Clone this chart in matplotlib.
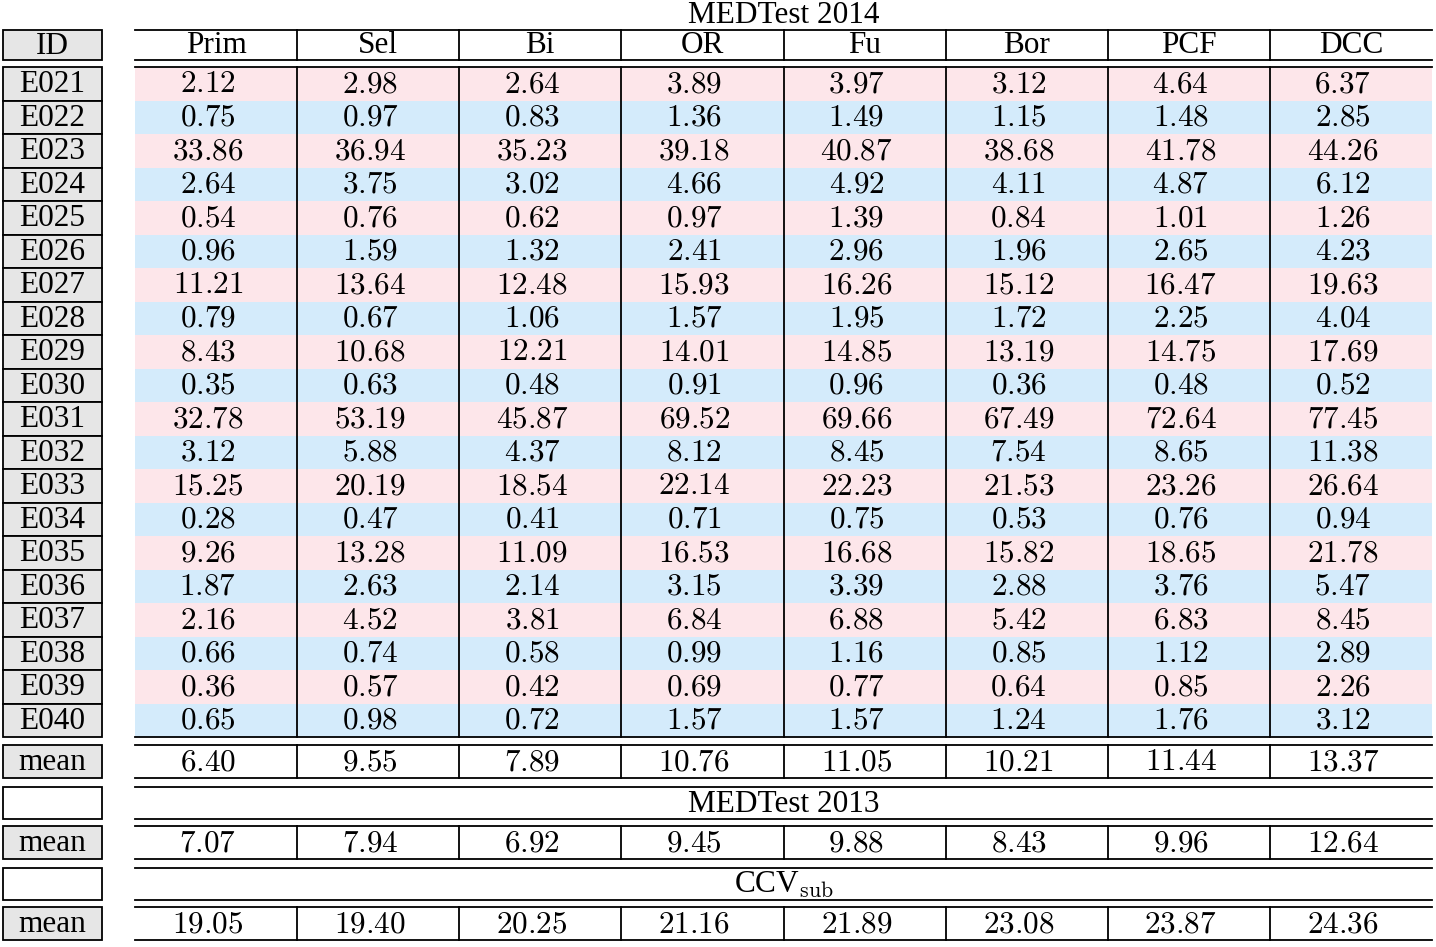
import matplotlib.pyplot as plt
from matplotlib.patches import Rectangle

methods = ["Prim", "Sel", "Bi", "OR", "Fu", "Bor", "PCF", "DCC"]
ids = ["E%03d" % i for i in range(21, 41)]
vals = [
    ["2.12", "2.98", "2.64", "3.89", "3.97", "3.12", "4.64", "6.37"],
    ["0.75", "0.97", "0.83", "1.36", "1.49", "1.15", "1.48", "2.85"],
    ["33.86", "36.94", "35.23", "39.18", "40.87", "38.68", "41.78", "44.26"],
    ["2.64", "3.75", "3.02", "4.66", "4.92", "4.11", "4.87", "6.12"],
    ["0.54", "0.76", "0.62", "0.97", "1.39", "0.84", "1.01", "1.26"],
    ["0.96", "1.59", "1.32", "2.41", "2.96", "1.96", "2.65", "4.23"],
    ["11.21", "13.64", "12.48", "15.93", "16.26", "15.12", "16.47", "19.63"],
    ["0.79", "0.67", "1.06", "1.57", "1.95", "1.72", "2.25", "4.04"],
    ["8.43", "10.68", "12.21", "14.01", "14.85", "13.19", "14.75", "17.69"],
    ["0.35", "0.63", "0.48", "0.91", "0.96", "0.36", "0.48", "0.52"],
    ["32.78", "53.19", "45.87", "69.52", "69.66", "67.49", "72.64", "77.45"],
    ["3.12", "5.88", "4.37", "8.12", "8.45", "7.54", "8.65", "11.38"],
    ["15.25", "20.19", "18.54", "22.14", "22.23", "21.53", "23.26", "26.64"],
    ["0.28", "0.47", "0.41", "0.71", "0.75", "0.53", "0.76", "0.94"],
    ["9.26", "13.28", "11.09", "16.53", "16.68", "15.82", "18.65", "21.78"],
    ["1.87", "2.63", "2.14", "3.15", "3.39", "2.88", "3.76", "5.47"],
    ["2.16", "4.52", "3.81", "6.84", "6.88", "5.42", "6.83", "8.45"],
    ["0.66", "0.74", "0.58", "0.99", "1.16", "0.85", "1.12", "2.89"],
    ["0.36", "0.57", "0.42", "0.69", "0.77", "0.64", "0.85", "2.26"],
    ["0.65", "0.98", "0.72", "1.57", "1.57", "1.24", "1.76", "3.12"],
]
mean_2014 = ["6.40", "9.55", "7.89", "10.76", "11.05", "10.21", "11.44", "13.37"]
mean_2013 = ["7.07", "7.94", "6.92", "9.45", "9.88", "8.43", "9.96", "12.64"]
mean_ccv = ["19.05", "19.40", "20.25", "21.16", "21.89", "23.08", "23.87", "24.36"]

plt.rcParams['font.family'] = ['Liberation Serif', 'DejaVu Serif']
plt.rcParams['mathtext.fontset'] = 'cm'

W, H = 1436, 947
fig = plt.figure(figsize=(W / 100, H / 100), dpi=100)
ax = fig.add_axes([0, 0, 1, 1])
ax.set_xlim(0, W)
ax.set_ylim(H, 0)
ax.axis('off')

fs = 22.5
idx0, idx1 = 3, 102
tx0, tx1 = 135, 1432
cw = (tx1 - tx0) / len(methods)
pink, blue, gray = '#fde6ea', '#d4ebfb', '#e6e6e6'
lw = 1.3


def id_box(y0, y1, label):
    ax.add_patch(Rectangle((idx0, y0), idx1 - idx0, y1 - y0, fc=gray if label else 'white', ec='black', lw=lw))
    if label:
        ax.text((idx0 + idx1) / 2, (y0 + y1) / 2 + 1, label, ha='center', va='center', fontsize=fs)


def hlines(y0, y1):
    ax.plot([tx0, tx1], [y0, y0], color='black', lw=lw)
    ax.plot([tx0, tx1], [y1, y1], color='black', lw=lw)


def vlines(y0, y1):
    for j in range(1, len(methods)):
        x = tx0 + j * cw
        ax.plot([x, x], [y0, y1], color='black', lw=lw)


def value_row(y0, y1, row, fill=None):
    for j, v in enumerate(row):
        if fill:
            ax.add_patch(Rectangle((tx0 + j * cw, y0), cw, y1 - y0, fc=fill, ec='none'))
        ax.text(tx0 + (j + 0.45) * cw, (y0 + y1) / 2 + 1, "$%s$" % v, ha='center', va='center', fontsize=fs)


# title and header
ax.text((tx0 + tx1) / 2, 15, "MEDTest 2014", ha='center', va='center', fontsize=fs)
id_box(30, 60, "ID")
hlines(30, 60)
vlines(30, 60)
for j, m in enumerate(methods):
    ax.text(tx0 + (j + 0.5) * cw, 45, m, ha='center', va='center', fontsize=fs)

# data rows
top, bot = 67, 737
rh = (bot - top) / len(ids)
for i, (name, row) in enumerate(zip(ids, vals)):
    y0 = top + i * rh
    value_row(y0, y0 + rh, row, pink if i % 2 == 0 else blue)
    id_box(y0, y0 + rh, name)
hlines(top, bot)
vlines(top, bot)

# mean 2014
id_box(745, 778, "mean")
hlines(745, 778)
vlines(745, 778)
value_row(745, 778, mean_2014)

# MEDTest 2013
id_box(787, 819, "")
hlines(787, 819)
ax.text((tx0 + tx1) / 2, 804, "MEDTest 2013", ha='center', va='center', fontsize=fs)
id_box(826, 859, "mean")
hlines(826, 859)
vlines(826, 859)
value_row(826, 859, mean_2013)

# CCV sub
id_box(868, 900, "")
hlines(868, 900)
ax.text((tx0 + tx1) / 2, 885, "CCV$_{\\mathrm{sub}}$", ha='center', va='center', fontsize=fs)
id_box(907, 940, "mean")
hlines(907, 940)
vlines(907, 940)
value_row(907, 940, mean_ccv)

fig.savefig("out.png", dpi=100)
